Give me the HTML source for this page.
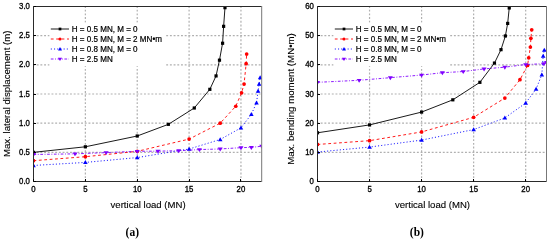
<!DOCTYPE html>
<html><head><meta charset="utf-8"><style>
html,body{margin:0;padding:0;background:#fff;}
svg{display:block;}
text{stroke:#000;stroke-width:0.22px;}
</style></head><body>
<svg width="550" height="241" viewBox="0 0 550 241" font-family='"Liberation Sans", Arial, sans-serif' fill="#000" stroke="none">
<clipPath id="c33"><rect x="33.5" y="6.5" width="228.2" height="175.0"/></clipPath>
<g stroke="#b0b0b0" stroke-width="1.2" stroke-dasharray="1.9 1.8" stroke-dashoffset="0.5" fill="none"><line x1="85.36363636363637" y1="6.5" x2="85.36363636363637" y2="181.5"/><line x1="137.22727272727275" y1="6.5" x2="137.22727272727275" y2="181.5"/><line x1="189.0909090909091" y1="6.5" x2="189.0909090909091" y2="181.5"/><line x1="240.95454545454547" y1="6.5" x2="240.95454545454547" y2="181.5"/><line x1="33.5" y1="152.33333333333334" x2="261.7" y2="152.33333333333334"/><line x1="33.5" y1="123.16666666666666" x2="261.7" y2="123.16666666666666"/><line x1="33.5" y1="94.0" x2="261.7" y2="94.0"/><line x1="33.5" y1="64.83333333333333" x2="261.7" y2="64.83333333333333"/><line x1="33.5" y1="35.66666666666666" x2="261.7" y2="35.66666666666666"/></g>
<g clip-path="url(#c33)">
<polyline points="33.50,152.33 85.36,146.79 137.23,136.00 168.35,124.33 194.28,108.00 209.84,89.33 216.06,75.92 219.48,60.17 222.59,43.25 223.63,26.33 224.98,7.67" fill="none" stroke="#000000" stroke-width="0.9"/>
<rect x="31.90" y="150.73" width="3.2" height="3.2" fill="#000000"/>
<rect x="83.76" y="145.19" width="3.2" height="3.2" fill="#000000"/>
<rect x="135.63" y="134.40" width="3.2" height="3.2" fill="#000000"/>
<rect x="166.75" y="122.73" width="3.2" height="3.2" fill="#000000"/>
<rect x="192.68" y="106.40" width="3.2" height="3.2" fill="#000000"/>
<rect x="208.24" y="87.73" width="3.2" height="3.2" fill="#000000"/>
<rect x="214.46" y="74.32" width="3.2" height="3.2" fill="#000000"/>
<rect x="217.88" y="58.57" width="3.2" height="3.2" fill="#000000"/>
<rect x="220.99" y="41.65" width="3.2" height="3.2" fill="#000000"/>
<rect x="222.03" y="24.73" width="3.2" height="3.2" fill="#000000"/>
<rect x="223.38" y="6.07" width="3.2" height="3.2" fill="#000000"/>
<polyline points="33.50,160.68 85.36,156.71 137.23,151.34 189.09,139.09 220.21,123.17 235.77,106.25 241.58,92.83 244.07,84.08 246.14,63.67 246.66,54.04" fill="none" stroke="#ff0000" stroke-width="0.9" stroke-dasharray="2.8 2.6"/>
<circle cx="33.50" cy="160.68" r="1.85" fill="#ff0000"/>
<circle cx="85.36" cy="156.71" r="1.85" fill="#ff0000"/>
<circle cx="137.23" cy="151.34" r="1.85" fill="#ff0000"/>
<circle cx="189.09" cy="139.09" r="1.85" fill="#ff0000"/>
<circle cx="220.21" cy="123.17" r="1.85" fill="#ff0000"/>
<circle cx="235.77" cy="106.25" r="1.85" fill="#ff0000"/>
<circle cx="241.58" cy="92.83" r="1.85" fill="#ff0000"/>
<circle cx="244.07" cy="84.08" r="1.85" fill="#ff0000"/>
<circle cx="246.14" cy="63.67" r="1.85" fill="#ff0000"/>
<circle cx="246.66" cy="54.04" r="1.85" fill="#ff0000"/>
<polyline points="33.50,165.46 85.36,162.43 137.23,157.58 189.09,149.01 220.21,139.50 240.95,127.83 251.33,114.42 256.51,102.75 258.07,91.08 259.11,84.08 260.14,77.67" fill="none" stroke="#0000ff" stroke-width="0.9" stroke-dasharray="1.1 2.1"/>
<polygon points="31.20,167.16 35.80,167.16 33.50,163.16" fill="#0000ff"/>
<polygon points="83.06,164.12 87.66,164.12 85.36,160.12" fill="#0000ff"/>
<polygon points="134.93,159.28 139.53,159.28 137.23,155.28" fill="#0000ff"/>
<polygon points="186.79,150.71 191.39,150.71 189.09,146.71" fill="#0000ff"/>
<polygon points="217.91,141.20 222.51,141.20 220.21,137.20" fill="#0000ff"/>
<polygon points="238.65,129.53 243.25,129.53 240.95,125.53" fill="#0000ff"/>
<polygon points="249.03,116.12 253.63,116.12 251.33,112.12" fill="#0000ff"/>
<polygon points="254.21,104.45 258.81,104.45 256.51,100.45" fill="#0000ff"/>
<polygon points="255.77,92.78 260.37,92.78 258.07,88.78" fill="#0000ff"/>
<polygon points="256.81,85.78 261.41,85.78 259.11,81.78" fill="#0000ff"/>
<polygon points="257.84,79.37 262.44,79.37 260.14,75.37" fill="#0000ff"/>
<polyline points="33.50,154.49 74.99,153.85 106.11,152.62 137.23,151.28 157.97,151.17 178.72,150.70 199.46,149.59 220.21,148.95 240.95,147.67 251.33,147.38 261.70,146.21" fill="none" stroke="#8000ff" stroke-width="0.9" stroke-dasharray="2.7 1.6 0.9 1.6"/>
<polygon points="31.00,153.09 36.00,153.09 33.50,156.99" fill="#8000ff"/>
<polygon points="72.49,152.45 77.49,152.45 74.99,156.35" fill="#8000ff"/>
<polygon points="103.61,151.22 108.61,151.22 106.11,155.12" fill="#8000ff"/>
<polygon points="134.73,149.88 139.73,149.88 137.23,153.78" fill="#8000ff"/>
<polygon points="155.47,149.77 160.47,149.77 157.97,153.67" fill="#8000ff"/>
<polygon points="176.22,149.30 181.22,149.30 178.72,153.20" fill="#8000ff"/>
<polygon points="196.96,148.19 201.96,148.19 199.46,152.09" fill="#8000ff"/>
<polygon points="217.71,147.55 222.71,147.55 220.21,151.45" fill="#8000ff"/>
<polygon points="238.45,146.27 243.45,146.27 240.95,150.17" fill="#8000ff"/>
<polygon points="248.83,145.97 253.83,145.97 251.33,149.88" fill="#8000ff"/>
<polygon points="259.20,144.81 264.20,144.81 261.70,148.71" fill="#8000ff"/>
</g>
<rect x="49.5" y="22.5" width="116" height="43.7" fill="#fff"/>
<line x1="50.80" y1="29.00" x2="69.00" y2="29.00" stroke="#000000" stroke-width="0.9"/>
<rect x="58.64" y="27.64" width="2.72" height="2.72" fill="#000000"/>
<text transform="translate(71.70,31.90) scale(0.94,1)" font-size="8.6">H = 0.5 MN, M = 0</text>
<line x1="50.80" y1="39.00" x2="69.00" y2="39.00" stroke="#ff0000" stroke-width="0.9" stroke-dasharray="2.8 2.6"/>
<circle cx="60.00" cy="39.00" r="1.57" fill="#ff0000"/>
<text transform="translate(71.70,41.80) scale(0.94,1)" font-size="8.6">H = 0.5 MN, M = 2 MN•m</text>
<line x1="50.80" y1="49.00" x2="69.00" y2="49.00" stroke="#0000ff" stroke-width="0.9" stroke-dasharray="1.1 2.1"/>
<polygon points="58.05,50.45 61.95,50.45 60.00,47.05" fill="#0000ff"/>
<text transform="translate(71.70,51.70) scale(0.94,1)" font-size="8.6">H = 0.8 MN, M = 0</text>
<line x1="50.80" y1="59.00" x2="69.00" y2="59.00" stroke="#8000ff" stroke-width="0.9" stroke-dasharray="2.7 1.6 0.9 1.6"/>
<polygon points="57.88,57.81 62.12,57.81 60.00,61.12" fill="#8000ff"/>
<text transform="translate(71.70,61.60) scale(0.94,1)" font-size="8.6">H = 2.5 MN</text>
<path d="M261.7,6.5 H33.5 V181.5 H261.7" fill="none" stroke="#2a2a2a" stroke-width="1"/>
<line x1="261.7" y1="6.0" x2="261.7" y2="182.0" stroke="#777" stroke-width="1"/>
<g stroke="#000" stroke-width="1"><line x1="33.5" y1="181.5" x2="33.5" y2="179.0"/><line x1="85.5" y1="181.5" x2="85.5" y2="179.0"/><line x1="137.5" y1="181.5" x2="137.5" y2="179.0"/><line x1="189.5" y1="181.5" x2="189.5" y2="179.0"/><line x1="240.5" y1="181.5" x2="240.5" y2="179.0"/><line x1="33.5" y1="181.5" x2="36.0" y2="181.5"/><line x1="33.5" y1="152.5" x2="36.0" y2="152.5"/><line x1="33.5" y1="123.5" x2="36.0" y2="123.5"/><line x1="33.5" y1="94.5" x2="36.0" y2="94.5"/><line x1="33.5" y1="64.5" x2="36.0" y2="64.5"/><line x1="33.5" y1="35.5" x2="36.0" y2="35.5"/><line x1="33.5" y1="6.5" x2="36.0" y2="6.5"/></g>
<text transform="translate(33.50,191.70) scale(0.93,1)" font-size="8.4" text-anchor="middle" style="stroke-width:0.32px">0</text>
<text transform="translate(85.36,191.70) scale(0.93,1)" font-size="8.4" text-anchor="middle" style="stroke-width:0.32px">5</text>
<text transform="translate(137.23,191.70) scale(0.93,1)" font-size="8.4" text-anchor="middle" style="stroke-width:0.32px">10</text>
<text transform="translate(189.09,191.70) scale(0.93,1)" font-size="8.4" text-anchor="middle" style="stroke-width:0.32px">15</text>
<text transform="translate(240.95,191.70) scale(0.93,1)" font-size="8.4" text-anchor="middle" style="stroke-width:0.32px">20</text>
<text transform="translate(29.90,184.10) scale(0.93,1)" font-size="8.4" text-anchor="end" style="stroke-width:0.32px">0.0</text>
<text transform="translate(29.90,154.93) scale(0.93,1)" font-size="8.4" text-anchor="end" style="stroke-width:0.32px">0.5</text>
<text transform="translate(29.90,125.77) scale(0.93,1)" font-size="8.4" text-anchor="end" style="stroke-width:0.32px">1.0</text>
<text transform="translate(29.90,96.60) scale(0.93,1)" font-size="8.4" text-anchor="end" style="stroke-width:0.32px">1.5</text>
<text transform="translate(29.90,67.43) scale(0.93,1)" font-size="8.4" text-anchor="end" style="stroke-width:0.32px">2.0</text>
<text transform="translate(29.90,38.27) scale(0.93,1)" font-size="8.4" text-anchor="end" style="stroke-width:0.32px">2.5</text>
<text transform="translate(29.90,9.10) scale(0.93,1)" font-size="8.4" text-anchor="end" style="stroke-width:0.32px">3.0</text>
<text transform="translate(148.10,207.50) scale(0.985,1)" font-size="9.75" text-anchor="middle" style="stroke-width:0.12px">vertical load (MN)</text>
<text transform="translate(10.10,93.80) rotate(-90) scale(0.9852216748768474,1)" font-size="9.794749999999999" text-anchor="middle" style="stroke-width:0.12px">Max. lateral displacement (m)</text>
<clipPath id="c317"><rect x="317.5" y="6.5" width="229.0" height="175.0"/></clipPath>
<g stroke="#b0b0b0" stroke-width="1.2" stroke-dasharray="1.9 1.8" stroke-dashoffset="0.5" fill="none"><line x1="369.54545454545456" y1="6.5" x2="369.54545454545456" y2="181.5"/><line x1="421.5909090909091" y1="6.5" x2="421.5909090909091" y2="181.5"/><line x1="473.6363636363636" y1="6.5" x2="473.6363636363636" y2="181.5"/><line x1="525.6818181818182" y1="6.5" x2="525.6818181818182" y2="181.5"/><line x1="317.5" y1="152.33333333333334" x2="546.5" y2="152.33333333333334"/><line x1="317.5" y1="123.16666666666666" x2="546.5" y2="123.16666666666666"/><line x1="317.5" y1="94.0" x2="546.5" y2="94.0"/><line x1="317.5" y1="64.83333333333333" x2="546.5" y2="64.83333333333333"/><line x1="317.5" y1="35.66666666666666" x2="546.5" y2="35.66666666666666"/></g>
<g clip-path="url(#c317)">
<polyline points="317.50,132.79 369.55,124.92 421.59,112.08 452.82,99.83 479.88,82.33 494.45,63.08 501.01,49.67 505.38,35.96 507.67,23.42 509.24,7.96" fill="none" stroke="#000000" stroke-width="0.9"/>
<rect x="315.90" y="131.19" width="3.2" height="3.2" fill="#000000"/>
<rect x="367.95" y="123.32" width="3.2" height="3.2" fill="#000000"/>
<rect x="419.99" y="110.48" width="3.2" height="3.2" fill="#000000"/>
<rect x="451.22" y="98.23" width="3.2" height="3.2" fill="#000000"/>
<rect x="478.28" y="80.73" width="3.2" height="3.2" fill="#000000"/>
<rect x="492.85" y="61.48" width="3.2" height="3.2" fill="#000000"/>
<rect x="499.41" y="48.07" width="3.2" height="3.2" fill="#000000"/>
<rect x="503.78" y="34.36" width="3.2" height="3.2" fill="#000000"/>
<rect x="506.07" y="21.82" width="3.2" height="3.2" fill="#000000"/>
<rect x="507.64" y="6.36" width="3.2" height="3.2" fill="#000000"/>
<polyline points="317.50,144.46 369.55,140.67 421.59,131.92 473.64,117.33 504.86,98.08 519.96,79.71 527.56,65.42 528.70,57.83 530.37,47.04 530.89,38.29 531.72,29.83" fill="none" stroke="#ff0000" stroke-width="0.9" stroke-dasharray="2.8 2.6"/>
<circle cx="317.50" cy="144.46" r="1.85" fill="#ff0000"/>
<circle cx="369.55" cy="140.67" r="1.85" fill="#ff0000"/>
<circle cx="421.59" cy="131.92" r="1.85" fill="#ff0000"/>
<circle cx="473.64" cy="117.33" r="1.85" fill="#ff0000"/>
<circle cx="504.86" cy="98.08" r="1.85" fill="#ff0000"/>
<circle cx="519.96" cy="79.71" r="1.85" fill="#ff0000"/>
<circle cx="527.56" cy="65.42" r="1.85" fill="#ff0000"/>
<circle cx="528.70" cy="57.83" r="1.85" fill="#ff0000"/>
<circle cx="530.37" cy="47.04" r="1.85" fill="#ff0000"/>
<circle cx="530.89" cy="38.29" r="1.85" fill="#ff0000"/>
<circle cx="531.72" cy="29.83" r="1.85" fill="#ff0000"/>
<polyline points="317.50,152.04 369.55,147.08 421.59,140.08 473.64,129.58 504.86,117.92 525.68,103.04 536.09,89.04 541.82,74.75 543.17,56.08 544.31,49.96" fill="none" stroke="#0000ff" stroke-width="0.9" stroke-dasharray="1.1 2.1"/>
<polygon points="315.20,153.74 319.80,153.74 317.50,149.74" fill="#0000ff"/>
<polygon points="367.25,148.78 371.85,148.78 369.55,144.78" fill="#0000ff"/>
<polygon points="419.29,141.78 423.89,141.78 421.59,137.78" fill="#0000ff"/>
<polygon points="471.34,131.28 475.94,131.28 473.64,127.28" fill="#0000ff"/>
<polygon points="502.56,119.62 507.16,119.62 504.86,115.62" fill="#0000ff"/>
<polygon points="523.38,104.74 527.98,104.74 525.68,100.74" fill="#0000ff"/>
<polygon points="533.79,90.74 538.39,90.74 536.09,86.74" fill="#0000ff"/>
<polygon points="539.52,76.45 544.12,76.45 541.82,72.45" fill="#0000ff"/>
<polygon points="540.87,57.78 545.47,57.78 543.17,53.78" fill="#0000ff"/>
<polygon points="542.01,51.66 546.61,51.66 544.31,47.66" fill="#0000ff"/>
<polyline points="317.50,82.33 359.14,80.29 390.36,77.67 421.59,75.04 442.41,72.71 463.23,71.54 484.05,68.92 504.86,67.17 525.68,64.54 543.90,63.67 546.50,62.50" fill="none" stroke="#8000ff" stroke-width="0.9" stroke-dasharray="2.7 1.6 0.9 1.6"/>
<polygon points="315.00,80.93 320.00,80.93 317.50,84.83" fill="#8000ff"/>
<polygon points="356.64,78.89 361.64,78.89 359.14,82.79" fill="#8000ff"/>
<polygon points="387.86,76.27 392.86,76.27 390.36,80.17" fill="#8000ff"/>
<polygon points="419.09,73.64 424.09,73.64 421.59,77.54" fill="#8000ff"/>
<polygon points="439.91,71.31 444.91,71.31 442.41,75.21" fill="#8000ff"/>
<polygon points="460.73,70.14 465.73,70.14 463.23,74.04" fill="#8000ff"/>
<polygon points="481.55,67.52 486.55,67.52 484.05,71.42" fill="#8000ff"/>
<polygon points="502.36,65.77 507.36,65.77 504.86,69.67" fill="#8000ff"/>
<polygon points="523.18,63.14 528.18,63.14 525.68,67.04" fill="#8000ff"/>
<polygon points="541.40,62.27 546.40,62.27 543.90,66.17" fill="#8000ff"/>
<polygon points="544.00,61.10 549.00,61.10 546.50,65.00" fill="#8000ff"/>
</g>
<rect x="333.5" y="22.5" width="116" height="43.7" fill="#fff"/>
<line x1="334.80" y1="29.00" x2="353.00" y2="29.00" stroke="#000000" stroke-width="0.9"/>
<rect x="342.64" y="27.64" width="2.72" height="2.72" fill="#000000"/>
<text transform="translate(355.70,31.90) scale(0.94,1)" font-size="8.6">H = 0.5 MN, M = 0</text>
<line x1="334.80" y1="39.00" x2="353.00" y2="39.00" stroke="#ff0000" stroke-width="0.9" stroke-dasharray="2.8 2.6"/>
<circle cx="344.00" cy="39.00" r="1.57" fill="#ff0000"/>
<text transform="translate(355.70,41.80) scale(0.94,1)" font-size="8.6">H = 0.5 MN, M = 2 MN•m</text>
<line x1="334.80" y1="49.00" x2="353.00" y2="49.00" stroke="#0000ff" stroke-width="0.9" stroke-dasharray="1.1 2.1"/>
<polygon points="342.05,50.45 345.95,50.45 344.00,47.05" fill="#0000ff"/>
<text transform="translate(355.70,51.70) scale(0.94,1)" font-size="8.6">H = 0.8 MN, M = 0</text>
<line x1="334.80" y1="59.00" x2="353.00" y2="59.00" stroke="#8000ff" stroke-width="0.9" stroke-dasharray="2.7 1.6 0.9 1.6"/>
<polygon points="341.88,57.81 346.12,57.81 344.00,61.12" fill="#8000ff"/>
<text transform="translate(355.70,61.60) scale(0.94,1)" font-size="8.6">H = 2.5 MN</text>
<path d="M546.5,6.5 H317.5 V181.5 H546.5" fill="none" stroke="#2a2a2a" stroke-width="1"/>
<line x1="546.5" y1="6.0" x2="546.5" y2="182.0" stroke="#777" stroke-width="1"/>
<g stroke="#000" stroke-width="1"><line x1="317.5" y1="181.5" x2="317.5" y2="179.0"/><line x1="369.5" y1="181.5" x2="369.5" y2="179.0"/><line x1="421.5" y1="181.5" x2="421.5" y2="179.0"/><line x1="473.5" y1="181.5" x2="473.5" y2="179.0"/><line x1="525.5" y1="181.5" x2="525.5" y2="179.0"/><line x1="317.5" y1="181.5" x2="320.0" y2="181.5"/><line x1="317.5" y1="152.5" x2="320.0" y2="152.5"/><line x1="317.5" y1="123.5" x2="320.0" y2="123.5"/><line x1="317.5" y1="94.5" x2="320.0" y2="94.5"/><line x1="317.5" y1="64.5" x2="320.0" y2="64.5"/><line x1="317.5" y1="35.5" x2="320.0" y2="35.5"/><line x1="317.5" y1="6.5" x2="320.0" y2="6.5"/></g>
<text transform="translate(317.50,191.70) scale(0.93,1)" font-size="8.4" text-anchor="middle" style="stroke-width:0.32px">0</text>
<text transform="translate(369.55,191.70) scale(0.93,1)" font-size="8.4" text-anchor="middle" style="stroke-width:0.32px">5</text>
<text transform="translate(421.59,191.70) scale(0.93,1)" font-size="8.4" text-anchor="middle" style="stroke-width:0.32px">10</text>
<text transform="translate(473.64,191.70) scale(0.93,1)" font-size="8.4" text-anchor="middle" style="stroke-width:0.32px">15</text>
<text transform="translate(525.68,191.70) scale(0.93,1)" font-size="8.4" text-anchor="middle" style="stroke-width:0.32px">20</text>
<text transform="translate(313.90,184.10) scale(0.93,1)" font-size="8.4" text-anchor="end" style="stroke-width:0.32px">0</text>
<text transform="translate(313.90,154.93) scale(0.93,1)" font-size="8.4" text-anchor="end" style="stroke-width:0.32px">10</text>
<text transform="translate(313.90,125.77) scale(0.93,1)" font-size="8.4" text-anchor="end" style="stroke-width:0.32px">20</text>
<text transform="translate(313.90,96.60) scale(0.93,1)" font-size="8.4" text-anchor="end" style="stroke-width:0.32px">30</text>
<text transform="translate(313.90,67.43) scale(0.93,1)" font-size="8.4" text-anchor="end" style="stroke-width:0.32px">40</text>
<text transform="translate(313.90,38.27) scale(0.93,1)" font-size="8.4" text-anchor="end" style="stroke-width:0.32px">50</text>
<text transform="translate(313.90,9.10) scale(0.93,1)" font-size="8.4" text-anchor="end" style="stroke-width:0.32px">60</text>
<text transform="translate(432.50,207.50) scale(0.985,1)" font-size="9.75" text-anchor="middle" style="stroke-width:0.12px">vertical load (MN)</text>
<text transform="translate(294.30,98.95) rotate(-90) scale(0.9852216748768474,1)" font-size="9.845499999999998" text-anchor="middle" style="stroke-width:0.12px">Max. bending moment (MN•m)</text>
<text x="132.3" y="236" font-size="11.5" font-weight="bold" font-family="Liberation Serif, serif" text-anchor="middle" fill="#000" style="stroke:none">(a)</text>
<text x="416.9" y="236" font-size="11.5" font-weight="bold" font-family="Liberation Serif, serif" text-anchor="middle" fill="#000" style="stroke:none">(b)</text>
</svg>
</body></html>
